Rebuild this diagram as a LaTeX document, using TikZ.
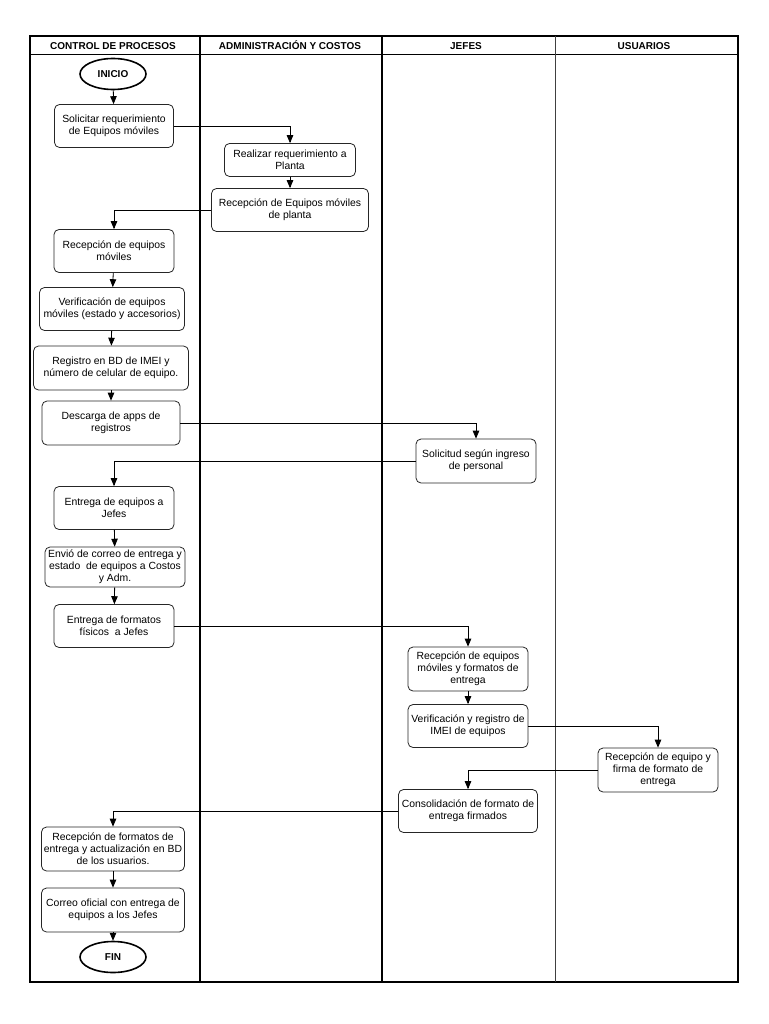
\documentclass[tikz,border=0pt]{standalone}
\usepackage{fontspec}
\setmainfont{Liberation Sans}
\usepackage{tikz}
\usetikzlibrary{shapes,arrows}

\begin{document}
\begin{tikzpicture}[x=1pt,y=-1pt,
  every node/.style={font=\fontsize{10.4}{12}\selectfont},
  proc/.style={draw=black!85,rounded corners=5pt,align=center,inner sep=1pt,line width=0.8pt,execute at begin node={\rule{0pt}{13pt}}},
  term/.style={draw,ellipse,line width=1.6pt,inner sep=0pt,minimum width=66,minimum height=31,font=\fontsize{10}{12}\selectfont\bfseries},
  flow/.style={->,>=triangle 45,line width=0.8pt}]
\useasboundingbox[fill=white] (0,0) rectangle (768,1024);
% swimlanes
\draw[line width=1.5pt] (30,36) rectangle (738,982);
\draw[line width=1pt] (30,55) -- (738,55);
\draw[line width=2pt] (200,36) -- (200,982);
\draw[line width=2pt] (382,36) -- (382,982);
\draw[line width=1pt,color=black!75] (555,36) -- (555,982);
\foreach \cx/\lbl in {113/CONTROL DE PROCESOS,290/ADMINISTRACIÓN Y COSTOS,466/JEFES,644/USUARIOS}
  \node[anchor=base,inner sep=0pt,font=\fontsize{10}{12}\selectfont\bfseries] (hdr\cx) at (\cx,49.5) {\lbl};
% control de procesos
\node[term] (inicio) at (113,74) {INICIO};
\node[proc,minimum width=119,minimum height=43] (solReq) at (114,126) {Solicitar requerimiento\\de Equipos móviles};
\node[proc,minimum width=120,minimum height=43] (recEquipos) at (114,251) {Recepción de equipos\\móviles};
\node[proc,minimum width=145,minimum height=43] (verifEquipos) at (112,309) {Verificación de equipos\\móviles (estado y accesorios)};
\node[proc,minimum width=155,minimum height=44] (registroBD) at (111,368) {Registro en BD de IMEI y\\número de celular de equipo.};
\node[proc,minimum width=138,minimum height=44] (descargaApps) at (111,423) {Descarga de apps de\\registros};
\node[proc,minimum width=120,minimum height=43] (entregaJefes) at (114,508) {Entrega de equipos a\\Jefes};
\node[proc,minimum width=140,minimum height=40,inner sep=0.5pt] (envioCorreo) at (115,567) {Envió de correo de entrega y\\estado\ \ de equipos a Costos\\y Adm.};
\node[proc,minimum width=120,minimum height=43] (entregaFormatos) at (114,626) {Entrega de formatos\\físicos\ \ a Jefes};
\node[proc,minimum width=143,minimum height=44] (recFormatos) at (113,849) {Recepción de formatos de\\entrega y actualización en BD\\de los usuarios.};
\node[proc,minimum width=143,minimum height=44] (correoOficial) at (113,910) {Correo oficial con entrega de\\equipos a los Jefes};
\node[term] (fin) at (113,957) {FIN};
% administracion y costos
\node[proc,minimum width=131,minimum height=33] (realizarReq) at (290,160) {Realizar requerimiento a\\Planta};
\node[proc,minimum width=157,minimum height=43] (recPlanta) at (290,210) {Recepción de Equipos móviles\\de planta};
% jefes
\node[proc,minimum width=120,minimum height=44] (solIngreso) at (476,461) {Solicitud según ingreso\\de personal};
\node[proc,minimum width=120,minimum height=44] (recJefes) at (468,669) {Recepción de equipos\\móviles y formatos de\\entrega};
\node[proc,minimum width=120,minimum height=43] (verifJefes) at (468,726) {Verificación y registro de\\IMEI de equipos};
\node[proc,minimum width=139,minimum height=43] (consolFormato) at (468,811) {Consolidación de formato de\\entrega firmados};
% usuarios
\node[proc,minimum width=120,minimum height=44] (recUsuario) at (658,770) {Recepción de equipo y\\firma de formato de\\entrega};
% flujo
\draw[flow] (inicio) -- (solReq);
\draw[flow] (solReq.east) -| (realizarReq.north);
\draw[flow] (realizarReq) -- (recPlanta);
\draw[flow] (recPlanta.west) -| (recEquipos.north);
\draw[flow] (recEquipos) -- (verifEquipos);
\draw[flow] (verifEquipos) -- (registroBD);
\draw[flow] (registroBD) -- (descargaApps);
\draw[flow] (descargaApps.east) -| (solIngreso.north);
\draw[flow] (solIngreso.west) -| (entregaJefes.north);
\draw[flow] (entregaJefes) -- (envioCorreo);
\draw[flow] (envioCorreo) -- (entregaFormatos);
\draw[flow] (entregaFormatos.east) -| (recJefes.north);
\draw[flow] (recJefes) -- (verifJefes);
\draw[flow] (verifJefes.east) -| (recUsuario.north);
\draw[flow] (recUsuario.west) -| (consolFormato.north);
\draw[flow] (consolFormato.west) -| (recFormatos.north);
\draw[flow] (recFormatos) -- (correoOficial);
\draw[flow] (correoOficial) -- (fin);
\end{tikzpicture}
\end{document}
